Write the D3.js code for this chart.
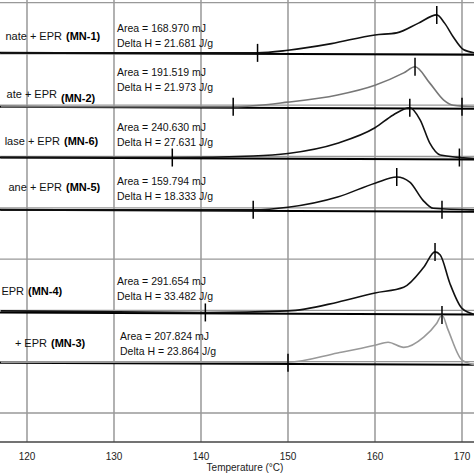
<!DOCTYPE html>
<html>
<head>
<meta charset="utf-8">
<script src="https://cdn.jsdelivr.net/npm/d3@7"></script>
<style>
  body { margin: 0; background: #fff; }
  text { font-family: "Liberation Sans", Arial, sans-serif; }
</style>
</head>
<body>
<svg id="chart" width="474" height="474"></svg>
<script>
// temperature ticks (°C)
var xTicks = [120, 130, 140, 150, 160, 170];
// horizontal grid rows (heat-flow units, arbitrary)
var yGrid = [0, 1, 2, 3, 4, 5, 6, 7, 8];

var names = ["MN-1", "MN-2", "MN-6", "MN-5", "MN-4", "MN-3"];
var prefixes = ["nate + EPR", "ate + EPR", "lase + EPR", "ane + EPR", "EPR", "+ EPR"];
var areas = ["168.970", "191.519", "240.630", "159.794", "291.654", "207.824"];
var deltaH = ["21.681", "21.973", "27.631", "18.333", "33.482", "23.864"];
var baselines = [7.02, 5.97, 4.98, 3.96, 1.96, 0.98];
var colors = ["#111", "#777", "#111", "#111", "#111", "#999"];

// traces: [temperature, signal]
var traces = [
  [[117, 7.02], [146.5, 7.02], [150, 7.07], [155, 7.2], [160, 7.37], [162.5, 7.41], [165, 7.6], [167.1, 7.76], [168, 7.6], [169, 7.33], [170.2, 7.08], [171.5, 7.02]],
  [[117, 5.97], [143.7, 5.97], [150, 6.06], [155.7, 6.2], [160, 6.39], [163.3, 6.63], [164.6, 6.75], [166.3, 6.43], [167.9, 6.1], [169, 6.0], [171.5, 5.97]],
  [[117, 4.98], [136.7, 4.98], [146, 5.01], [150, 5.06], [155.7, 5.26], [160, 5.56], [162.1, 5.81], [164, 5.95], [165.2, 5.71], [166.3, 5.26], [167.5, 5.03], [171.5, 4.96]],
  [[117, 3.96], [146, 3.96], [150, 4.01], [155.7, 4.21], [160, 4.48], [162.5, 4.6], [164, 4.5], [165.5, 4.15], [166.7, 3.99], [171.5, 3.96]],
  [[117, 1.99], [140.5, 1.96], [150, 1.99], [155.7, 2.16], [160, 2.34], [163.3, 2.45], [165.6, 2.84], [166.9, 3.14], [167.5, 3.08], [168.6, 2.53], [170, 2.04], [171.5, 1.92]],
  [[117, 0.99], [150, 0.99], [155.7, 1.17], [160, 1.32], [161.5, 1.38], [163.3, 1.28], [165.6, 1.48], [167.1, 1.75], [167.7, 1.91], [168.4, 1.62], [170, 1.03], [171.5, 0.94]]
];
// vertical tick marks [temperature] on each trace: onset, peak, end
var onsets = [146.5, 143.7, 136.7, 146, 140.5, 150];
var peaks = [167.1, 164.6, 164, 162.5, 166.9, 167.7];
var ends = [null, 170, 169.7, 167.7, null, null];

var svg = d3.select("#chart");
var W = 474, H = 474;
var x = d3.scaleLinear().domain([120, 170]).range([27, 462]);
var y = d3.scaleLinear().domain([0, 1]).range([413, 361.7]);

// frame + grid
svg.append("g").selectAll("line").data(xTicks).enter().append("line")
  .attr("x1", d => x(d)).attr("x2", d => x(d)).attr("y1", 0).attr("y2", 442)
  .attr("stroke", "#888").attr("stroke-width", 1.3);
svg.append("g").selectAll("line").data(yGrid).enter().append("line")
  .attr("x1", 0).attr("x2", W).attr("y1", d => y(d)).attr("y2", d => y(d))
  .attr("stroke", "#999").attr("stroke-width", 1.3);
svg.append("line").attr("x1", 0).attr("x2", W).attr("y1", 442).attr("y2", 442)
  .attr("stroke", "#444").attr("stroke-width", 1.5);

// tick labels
svg.append("g").selectAll("text").data(xTicks).enter().append("text")
  .attr("x", d => x(d)).attr("y", 460).attr("text-anchor", "middle")
  .attr("font-size", 10).attr("fill", "#222").text(d => d);
svg.append("text").attr("x", 245).attr("y", 471).attr("text-anchor", "middle")
  .attr("font-size", 10).attr("fill", "#222").text("Temperature (°C)");

var line = d3.line().x(d => x(d[0])).y(d => y(d[1])).curve(d3.curveMonotoneX);
var labelX = [62, 57, 60, 62, 24, 47];
var labelDy = [-13, -9, -13, -19, -17, -16];
var areaX = [117, 117, 117, 117, 117, 120];
var areaDy = [-21, -31, -27, -25, -27, -23];

traces.forEach(function(t, i) {
  var b = baselines[i];
  // integration baseline
  svg.append("line").attr("x1", 0).attr("x2", W)
    .attr("y1", y(b)).attr("y2", y(b) + 2)
    .attr("stroke", "#000").attr("stroke-width", 2);
  svg.append("path").attr("d", line(t)).attr("fill", "none")
    .attr("stroke", colors[i]).attr("stroke-width", 1.6);

  var marks = [onsets[i], peaks[i], ends[i]].filter(d => d != null);
  marks.forEach(function(m, k) {
    var yy = k == 1 ? y(d3.max(t, d => d[1])) : y(b);
    svg.append("line").attr("x1", x(m)).attr("x2", x(m))
      .attr("y1", yy - 9).attr("y2", yy + 9)
      .attr("stroke", "#000").attr("stroke-width", 1.5);
  });

  var ly = y(b) + labelDy[i];
  svg.append("text").attr("x", labelX[i]).attr("y", ly).attr("text-anchor", "end")
    .attr("font-size", 11).attr("fill", "#111").text(prefixes[i]);
  svg.append("text").attr("x", labelX[i] + 4).attr("y", ly + (i == 1 ? 4 : 0))
    .attr("font-size", 11).attr("font-weight", "bold").attr("fill", "#000")
    .text("(" + names[i] + ")");

  var ay = y(b) + areaDy[i];
  svg.append("text").attr("x", areaX[i]).attr("y", ay).attr("font-size", 10.5)
    .attr("fill", "#111").text("Area = " + areas[i] + " mJ");
  svg.append("text").attr("x", areaX[i]).attr("y", ay + 15).attr("font-size", 10.5)
    .attr("fill", "#111").text("Delta H = " + deltaH[i] + " J/g");
});
</script>
</body>
</html>
